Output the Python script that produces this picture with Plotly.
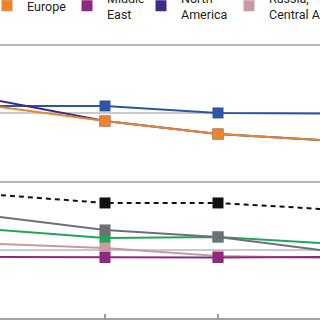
import plotly.graph_objects as go

categories = [0, 1, 2, 3]

# values (gridline step = 10)
europe = [15.55, 14.45, 13.50, 13.02]
north_america = [16.02, 14.45, 13.50, 13.02]
blue_series = [15.55, 15.55, 15.04, 15.00]
ref_upper = [15.04, 15.04, 15.04, 15.04]
ref_lower = [5.04, 5.04, 5.04, 5.04]
world = [9.09, 8.47, 8.47, 7.99]
gray_series = [7.52, 6.50, 5.99, 4.93]
green_series = [6.54, 5.91, 5.99, 5.50]
russia = [5.50, 5.18, 4.60, 4.45]
middle_east = [4.53, 4.49, 4.49, 4.53]

C_EUR = "#e8852e"
C_NA = "#3d2a86"
C_BLUE = "#2c55a3"
C_REF = "#b9b9b9"
C_WORLD = "#111111"
C_GRAY = "#6f6f76"
C_GREEN = "#1fa65a"
C_RUS = "#c99b9c"
C_ME = "#8d2a80"

fig = go.Figure()

def line(y, color, name, width=2, dash="solid", markers=True, legendgroup=None):
    fig.add_trace(go.Scatter(
        x=categories, y=y, name=name,
        mode="lines+markers" if markers else "lines",
        line=dict(color=color, width=width, dash=dash),
        marker=dict(symbol="square", size=11, color=color),
        showlegend=False, legendgroup=legendgroup, cliponaxis=True,
    ))

line(ref_upper, C_REF, "Reference", width=1.5, markers=False)
line(ref_lower, C_REF, "Reference 2", width=1.5, markers=False)
line(blue_series, C_BLUE, "Other region")
line(north_america, C_NA, "North America", legendgroup="na")
line(europe, C_EUR, "Europe", legendgroup="eu")
line(world, C_WORLD, "World", dash="5px,4px")
line(green_series, C_GREEN, "Other region 2")
line(gray_series, C_GRAY, "Other region 3")
line(russia, C_RUS, "Russia, Central Asia", legendgroup="ru")
line(middle_east, C_ME, "Middle East", legendgroup="me")

legend_items = [
    ("Europe", C_EUR, "eu", "legend", -13),
    ("Middle<br>East", C_ME, "me", "legend2", 67),
    ("North<br>America", C_NA, "na", "legend3", 141),
    ("Russia,<br>Central Asia", C_RUS, "ru", "legend4", 229),
]
font = dict(family="Roboto", size=12.5, color="#231f20")
legend_layout = {}
for name, color, grp, lg, left in legend_items:
    fig.add_trace(go.Scatter(
        x=[None], y=[None], name=name, mode="markers",
        marker=dict(symbol="square", size=11, color=color),
        legendgroup=grp, legend=lg, showlegend=True,
    ))
    legend_layout[lg] = dict(
        x=left / 320, xanchor="left", y=1 - 6 / 320, yanchor="middle",
        bgcolor="rgba(0,0,0,0)", borderwidth=0, font=font,
        orientation="h", itemclick=False, valign="middle",
    )

fig.update_layout(
    width=320, height=320,
    margin=dict(l=0, r=0, t=0, b=0, autoexpand=False),
    paper_bgcolor="white", plot_bgcolor="white",
    xaxis=dict(range=[8 / 113, 328 / 113], showgrid=False, zeroline=False,
               showticklabels=False, tickvals=[1, 2], ticks="inside",
               ticklen=6, tickwidth=1.5, tickcolor="#9a9a9a", showline=False),
    yaxis=dict(range=[-0.073, 23.285], dtick=10, tick0=0, showgrid=True,
               gridcolor="#b8b8b8", gridwidth=2, zeroline=True,
               zerolinecolor="#a3a3a3", zerolinewidth=2,
               showticklabels=False, showline=False),
    **legend_layout,
)

fig.write_html("out.html")
